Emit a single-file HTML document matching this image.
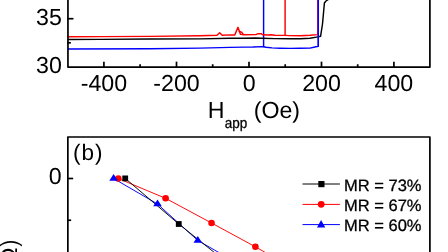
<!DOCTYPE html>
<html><head><meta charset="utf-8">
<style>
html,body{margin:0;padding:0;background:#fff;width:448px;height:252px;overflow:hidden}
svg{display:block}
text{font-family:"Liberation Sans",Arial,sans-serif;fill:#000;text-rendering:geometricPrecision}
</style></head><body>
<svg width="448" height="252" viewBox="0 0 448 252">
<!-- ===== Top panel (a) ===== -->
<g fill="none" stroke-linejoin="round" stroke-linecap="butt">
  <!-- data: blue -->
  <polyline stroke="#0000ff" stroke-width="1.45" points="68,48.9 150,48.8 200,48.1 230,47.4 244,47.1 253,47.0 262,46.6 263.6,46.7 263.6,-10"/>
  <polyline stroke="#0000ff" stroke-width="1.45" points="263.6,46.8 266,47.3 272,47.9 280,48.2 290,48.4 300,48.3 310,48.1 316,46.7 318.3,46.4 318.3,-10"/>
  <!-- data: black -->
  <polyline stroke="#000" stroke-width="1.45" points="68,39.5 100,39.35 150,39.0 200,38.85 230,38.2 244,38.2 255,38.0 262,38.3 275,38.6 290,38.8 300,38.8 310,38.3 318,36.9 320.6,36.2 322.5,24 324.4,3 326,1 329,-1 340,-8"/>
  <!-- data: red -->
  <polyline stroke="#ff0000" stroke-width="1.45" points="68,36.8 100,36.6 150,36.4 200,35.7 217,35.3 219.7,32.8 222.2,35.2 230,34.9 234.8,34.9 238,27.3 240.5,34.4 244,34.7 256,34.6 258,33.7 261,33.6 263,34.8 268,35.0 271,34.8 275,35.3 285.1,35.4 285.1,-10"/>
  <polyline stroke="#ff0000" stroke-width="1.45" points="238.7,31.3 241.6,32.3 243.4,34.5"/>
  <polyline stroke="#ff0000" stroke-width="1.45" points="285.1,35.4 290,35.6 300,35.7 310,35.2 317.9,34.6 317.9,-10"/>
  <!-- blue vertical on top of red -->
  <line stroke="#0000ff" stroke-width="1.45" x1="318.3" y1="46" x2="318.3" y2="-10"/>
</g>
<g fill="none" stroke="#000" stroke-width="1.7" stroke-linecap="square">
  <polyline points="67.95,-10 67.95,67.1 429.9,67.1 429.9,-10" stroke-linejoin="round"/>
  <!-- y ticks -->
  <line x1="67.95" y1="18.7" x2="72.6" y2="18.7"/>
  <line x1="67.95" y1="42.8" x2="70.0" y2="42.8"/>
  <!-- x major ticks -->
  <line x1="103.9" y1="67.1" x2="103.9" y2="62.5"/>
  <line x1="176.5" y1="67.1" x2="176.5" y2="62.5"/>
  <line x1="249.0" y1="67.1" x2="249.0" y2="62.5"/>
  <line x1="321.5" y1="67.1" x2="321.5" y2="62.5"/>
  <line x1="393.9" y1="67.1" x2="393.9" y2="62.5"/>
  <!-- x minor ticks -->
  <line x1="140.1" y1="67.1" x2="140.1" y2="65.1"/>
  <line x1="212.7" y1="67.1" x2="212.7" y2="65.1"/>
  <line x1="285.2" y1="67.1" x2="285.2" y2="65.1"/>
  <line x1="357.7" y1="67.1" x2="357.7" y2="65.1"/>
</g>
<g font-size="23.2">
  <text x="61.9" y="25.15" text-anchor="end">35</text>
  <text x="61.85" y="73.45" text-anchor="end">30</text>
  <text x="103.9" y="91.4" text-anchor="middle">-400</text>
  <text x="176.5" y="91.4" text-anchor="middle">-200</text>
  <text x="249.1" y="91.4" text-anchor="middle">0</text>
  <text x="321.5" y="91.4" text-anchor="middle">200</text>
  <text x="393.9" y="91.4" text-anchor="middle">400</text>
  <text x="207.8" y="117.6">H</text>
  <text transform="translate(224.7,127.6) scale(0.9,1)" font-size="15" stroke="#000" stroke-width="0.3">app</text>
  <text x="253.7" y="118.2">(Oe)</text>
</g>

<!-- ===== Bottom panel (b) ===== -->
<g fill="none" stroke="#000" stroke-width="1.7" stroke-linecap="square">
  <polyline points="67.85,260 67.85,137 429.9,137 429.9,260" stroke-linejoin="round"/>
  <line x1="67.85" y1="178.5" x2="72.3" y2="178.5"/>
  <line x1="67.85" y1="220.25" x2="70.3" y2="220.25"/>
</g>
<g font-size="22.5">
  <text x="73.0 81.4 95.1" y="160.4">(b)</text>
  <text x="61.7" y="184.3" text-anchor="end" font-size="23.2">0</text>
  <text transform="translate(16.6,239.7) rotate(-90) scale(0.88,1.03)" text-anchor="end" font-size="23">)</text>
  <text transform="translate(16.5,247.6) rotate(-90)" text-anchor="end" font-size="23">R (&#937;</text>
</g>
<!-- data lines -->
<g fill="none" stroke-width="0.95" stroke-linejoin="round">
  <polyline stroke="#ff0000" points="118.3,178.5 165.6,198.3 211.55,223.0 255.4,246.8 275,258"/>
  <polyline stroke="#0000ff" points="113.6,178.5 157.5,204.0 197.8,240.5 225,256"/>
  <polyline stroke="#000" points="125.2,178.4 178.75,224.0 220,257"/>
</g>
<!-- markers -->
<g fill="#ff0000">
  <circle cx="118.3" cy="178.5" r="3.3"/>
  <circle cx="165.6" cy="198.3" r="3.3"/>
  <circle cx="211.55" cy="223.0" r="3.3"/>
  <circle cx="255.4" cy="246.8" r="3.3"/>
</g>
<g fill="#000">
  <rect x="122.3" y="175.5" width="5.8" height="5.8"/>
  <rect x="175.85" y="221.1" width="5.8" height="5.8"/>
</g>
<g fill="#0000ff">
  <polygon points="113.6,174 117.9,180.8 109.3,180.8"/>
  <polygon points="157.5,199.4 161.8,206.3 153.2,206.3"/>
  <polygon points="197.8,236.0 202.1,242.8 193.5,242.8"/>
</g>
<!-- legend -->
<g stroke-width="1.0">
  <line x1="302.5" y1="184.0" x2="339.9" y2="184.0" stroke="#000"/>
  <line x1="302.5" y1="204.4" x2="339.9" y2="204.4" stroke="#ff0000"/>
  <line x1="302.5" y1="224.6" x2="339.9" y2="224.6" stroke="#0000ff"/>
</g>
<rect x="318.3" y="181.0" width="6.2" height="6.2" fill="#000"/>
<circle cx="321.2" cy="204.3" r="3.4" fill="#ff0000"/>
<polygon points="321.1,220.1 325.3,227.4 317.0,227.4" fill="#0000ff"/>
<g font-size="16.5" stroke="#000" stroke-width="0.3">
  <text x="344" y="190.6">MR = 73%</text>
  <text x="344" y="210.6">MR = 67%</text>
  <text x="344" y="230.7">MR = 60%</text>
</g>
</svg>
</body></html>
